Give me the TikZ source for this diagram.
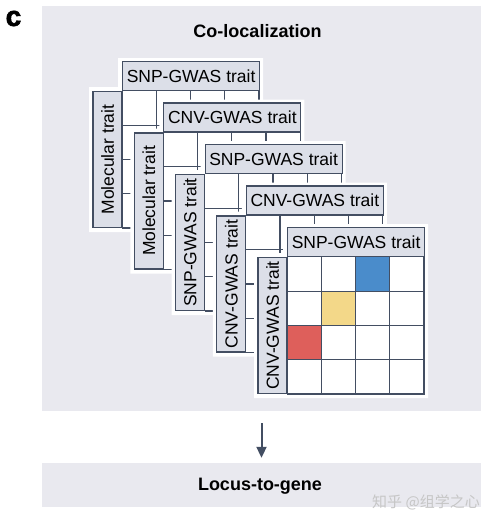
\documentclass[tikz,border=0pt]{standalone}
\usepackage{fontspec}
\setmainfont{Liberation Sans}
\newfontfamily\cjk{Noto Sans CJK SC}
\newfontfamily\heavy[FakeBold=2.5]{Liberation Sans Bold}
\usetikzlibrary{arrows.meta}
\definecolor{panelbg}{HTML}{E9E9EF}
\definecolor{hdrbg}{HTML}{DCDFE8}
\definecolor{ink}{HTML}{434E62}
\definecolor{cblue}{HTML}{4A8CCB}
\definecolor{cyellow}{HTML}{F3D889}
\definecolor{cred}{HTML}{DE5F5B}
\newcommand\mtx[2]{%
  \fill[white] (#1-4,#2-33) -- (#1+141,#2-33) -- (#1+141,#2+141) -- (#1-33,#2+141) -- (#1-33,#2-4) -- (#1-4,#2-4) -- cycle;
  \fill[white] (#1,#2) rectangle (#1+137,#2+137);
}
\newcommand\mtxgrid[5]{%
  \foreach \i in {1,2,3} {
    \draw[gridl] (#1+\i*34.25,#2) -- (#1+\i*34.25,#2+137);
    \draw[gridl] (#1,#2+\i*34.25) -- (#1+137,#2+\i*34.25);
  }
  \draw[gridl] (#1+137,#2) -- (#1+137,#2+137) -- (#1,#2+137);
  \node[hdr, anchor=south west] (#5h) at (#1,#2) {#3};
  \node[sidebar, rotate=90] (#5s) at (#1-14.5,#2+68.5) {#4};
}
\begin{document}
\begin{tikzpicture}[x=1pt,y=-1pt,
  panel/.style={fill=panelbg, draw=none, inner sep=0pt},
  gridl/.style={draw=ink, line width=1.2pt},
  hdr/.style={fill=hdrbg, draw=ink, line width=1.2pt, inner sep=0pt,
    font=\fontsize{17.5}{17.5}\selectfont, text=black,
    minimum width=137pt, minimum height=29pt},
  sidebar/.style={fill=hdrbg, draw=ink, line width=1.2pt, inner sep=0pt,
    font=\fontsize{17.5}{17.5}\selectfont, text=black,
    minimum width=136pt, minimum height=29pt},
  boldlbl/.style={font=\bfseries\fontsize{18}{18}\selectfont, text=black, inner sep=0pt},
  arr/.style={draw=ink, line width=2pt, -{Triangle[width=10pt,length=11pt]}}
]
\useasboundingbox (0,0) rectangle (492,523);
\fill[white] (0,0) rectangle (492,523);

\node[font=\heavy\fontsize{28}{28}\selectfont, inner sep=0pt] (lblc) at (13.5,18.5) {c};

\node[panel, minimum width=439pt, minimum height=405pt] (panel) at (261.5,208.5) {};
\node[boldlbl] (title) at (257.5,31) {Co-localization};

% matrix 1
\mtx{122}{91}
\mtxgrid{122}{91}{SNP-GWAS trait}{Molecular trait}{m1}
% matrix 2
\mtx{163.25}{132.5}
\mtxgrid{163.25}{132.5}{CNV-GWAS trait}{Molecular trait}{m2}
% matrix 3
\mtx{204.5}{174}
\mtxgrid{204.5}{174}{SNP-GWAS trait}{SNP-GWAS trait}{m3}
% matrix 4
\mtx{245.75}{215.5}
\mtxgrid{245.75}{215.5}{CNV-GWAS trait}{CNV-GWAS trait}{m4}
% matrix 5
\mtx{287}{257}
\fill[cblue] (287+2*34.25,257) rectangle (287+3*34.25,257+34.25);
\fill[cyellow] (287+34.25,257+34.25) rectangle (287+2*34.25,257+2*34.25);
\fill[cred] (287,257+2*34.25) rectangle (287+34.25,257+3*34.25);
\mtxgrid{287}{257}{SNP-GWAS trait}{CNV-GWAS trait}{m5}

\node[panel, minimum width=439pt, minimum height=44pt] (l2g) at (261.5,485) {};
\node[boldlbl] (l2gtext) at (260,486) {Locus-to-gene};

\draw[arr] ([yshift=-12pt]panel.south) -- ([yshift=5pt]l2g.north);

\node[font=\cjk\fontsize{15}{15}\selectfont, text=gray!45, inner sep=0pt] (wm) at (426,502) {知乎 @组学之心};
\end{tikzpicture}
\end{document}
